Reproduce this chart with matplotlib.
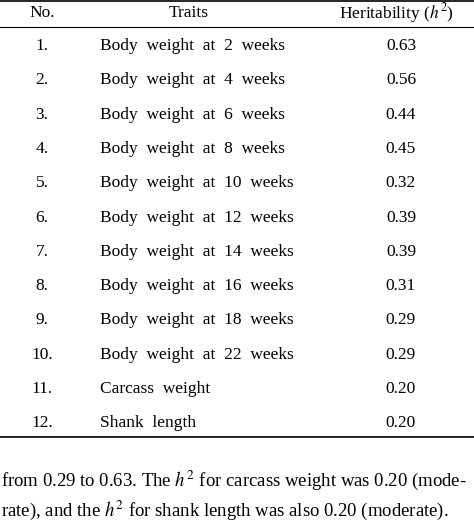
import matplotlib
matplotlib.use("Agg")
import matplotlib.pyplot as plt

nums = [f"{i}." for i in range(1, 13)]
traits = ["Body weight at 2 weeks", "Body weight at 4 weeks", "Body weight at 6 weeks",
          "Body weight at 8 weeks", "Body weight at 10 weeks", "Body weight at 12 weeks",
          "Body weight at 14 weeks", "Body weight at 16 weeks", "Body weight at 18 weeks",
          "Body weight at 22 weeks", "Carcass weight", "Shank length"]
h2 = [0.63, 0.56, 0.44, 0.45, 0.32, 0.39, 0.39, 0.31, 0.29, 0.29, 0.20, 0.20]

W, H = 474, 528
plt.rcParams['font.family'] = ['Liberation Serif', 'DejaVu Serif']
plt.rcParams['mathtext.fontset'] = 'stix'
fig = plt.figure(figsize=(W/100, H/100), dpi=100)
ax = fig.add_axes([0, 0, 1, 1])
ax.set_xlim(0, W); ax.set_ylim(H, 0); ax.axis("off")
fs = 12.5

ax.plot([0, W], [1, 1], color="black", lw=1.2)
ax.plot([0, W], [27, 27], color="black", lw=0.8)
ax.plot([0, W], [437, 437], color="black", lw=1.2)
ax.text(42, 13, "No.", ha="center", va="center", fontsize=fs)
ax.text(189, 13, "Traits", ha="center", va="center", fontsize=fs)
ax.text(396, 13, "Heritability ($h^2$)", ha="center", va="center", fontsize=fs)
y0, dy = 46, 34.3
for i, (n, t, v) in enumerate(zip(nums, traits, h2)):
    y = y0 + i*dy
    ax.text(42, y, n, ha="center", va="center", fontsize=fs)
    ax.text(100, y, t.replace(" ", "  "), ha="left", va="center", fontsize=fs)
    ax.text(401, y, f"{v:.2f}", ha="center", va="center", fontsize=fs)
ax.text(1, 480, "from 0.29 to 0.63. The $h^2$ for carcass weight was 0.20 (mode-",
        ha="left", va="center", fontsize=13.5)
ax.text(1, 510, "rate), and the $h^2$ for shank length was also 0.20 (moderate).",
        ha="left", va="center", fontsize=13.5)
fig.savefig("out.png", dpi=100)
